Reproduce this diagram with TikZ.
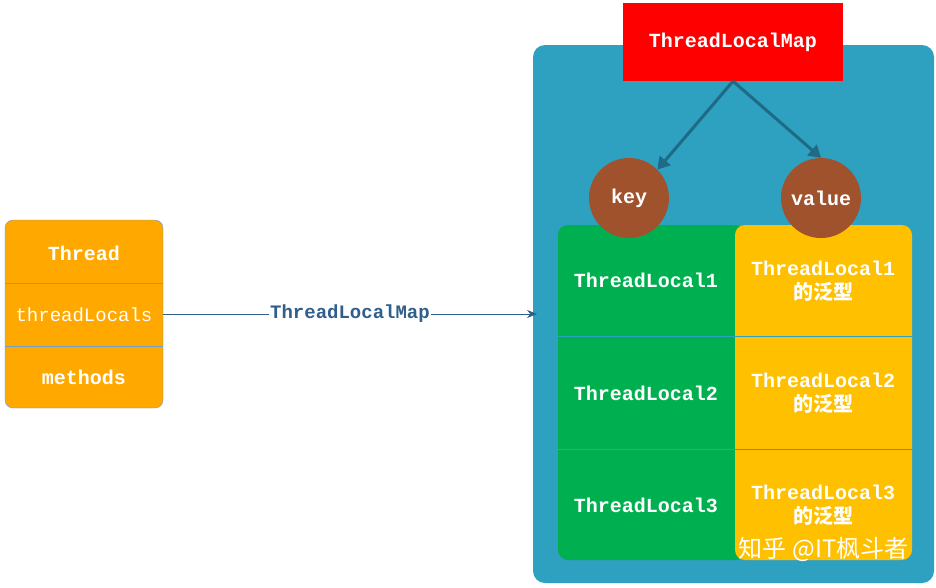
\documentclass[tikz,border=0pt]{standalone}
\usepackage{fontspec}
\setmonofont{Liberation Mono}
\newfontfamily\cjk{Noto Sans CJK SC}
\usetikzlibrary{arrows.meta}
\definecolor{orng}{HTML}{FFA800}
\definecolor{teal}{HTML}{2EA0C0}
\definecolor{grn}{HTML}{00B050}
\definecolor{ylw}{HTML}{FFC000}
\definecolor{brn}{HTML}{A0522D}
\definecolor{dblue}{HTML}{2F5F8A}
\definecolor{darr}{HTML}{1F6A85}
\definecolor{bord}{HTML}{6FA0C8}
\tikzset{
 txt/.style={text=white,font=\fontsize{20}{24}\selectfont\ttfamily\bfseries,align=center},
}
\begin{document}
\begin{tikzpicture}[x=1pt,y=-1pt]
\useasboundingbox (0,0) rectangle (936,587);
\fill[white] (0,0) rectangle (936,587);
% Thread box
\node[draw=bord,fill=orng,rounded corners=8pt,minimum width=158pt,minimum height=188pt,inner sep=0pt] (thread) at (84,314) {};
\draw[bord] (5,283) -- (163,283) (5,346) -- (163,346);
\node[txt] (t1) at (84,253) {Thread};
\node[txt,font=\fontsize{19}{21}\selectfont\ttfamily] (t2) at (84,315) {threadLocals};
\node[txt] (t3) at (84,377) {methods};
% panel
\node[fill=teal,rounded corners=12pt,minimum width=401pt,minimum height=538pt,inner sep=0pt] (panel) at (733.5,314) {};
\coordinate (pin) at (537,314);
\coordinate (tout) at (163,314);
\draw[dblue,thick,-{Stealth[length=10pt,width=8pt]}] (tout) -- node[fill=white,text=dblue,font=\fontsize{19}{21}\selectfont\ttfamily\bfseries,inner sep=1pt] (lbl) {ThreadLocalMap} (pin);
% red box
\node[fill=red,minimum width=220pt,minimum height=78pt,inner sep=0pt,txt] (map) at (733,42) {ThreadLocalMap};
% columns
\fill[grn,rounded corners=10pt] (558,225) rectangle (745,560);
\fill[ylw,rounded corners=10pt] (735,225) rectangle (912,560);
\fill[grn] (725,225) rectangle (735,560);
\draw[teal] (558,336) -- (912,336) (558,449) -- (912,449);
\node[txt] (k1) at (646,280) {ThreadLocal1};
\node[txt] (k2) at (646,393) {ThreadLocal2};
\node[txt] (k3) at (646,505) {ThreadLocal3};
\node[txt] (v1) at (823,281) {ThreadLocal1\\{\cjk 的泛型}};
\node[txt] (v2) at (823,393) {ThreadLocal2\\{\cjk 的泛型}};
\node[txt] (v3) at (823,505) {ThreadLocal3\\{\cjk 的泛型}};
% circles
\node[circle,fill=brn,minimum size=80pt,inner sep=0pt,txt] (key) at (629,198) {key};
\node[circle,fill=brn,minimum size=80pt,inner sep=0pt,txt] (val) at (821,198) {value};
\draw[darr,line width=3pt,-{Triangle[length=12pt,width=14pt]}] (map.south) -- (key.north east);
\draw[darr,line width=3pt,-{Triangle[length=12pt,width=14pt]}] (map.south) -- (val.north);
% watermark
\node[text=white,font=\fontsize{24}{26}\selectfont\cjk,anchor=east] (wm) at (912,549) {知乎 @IT枫斗者};
\end{tikzpicture}
\end{document}
